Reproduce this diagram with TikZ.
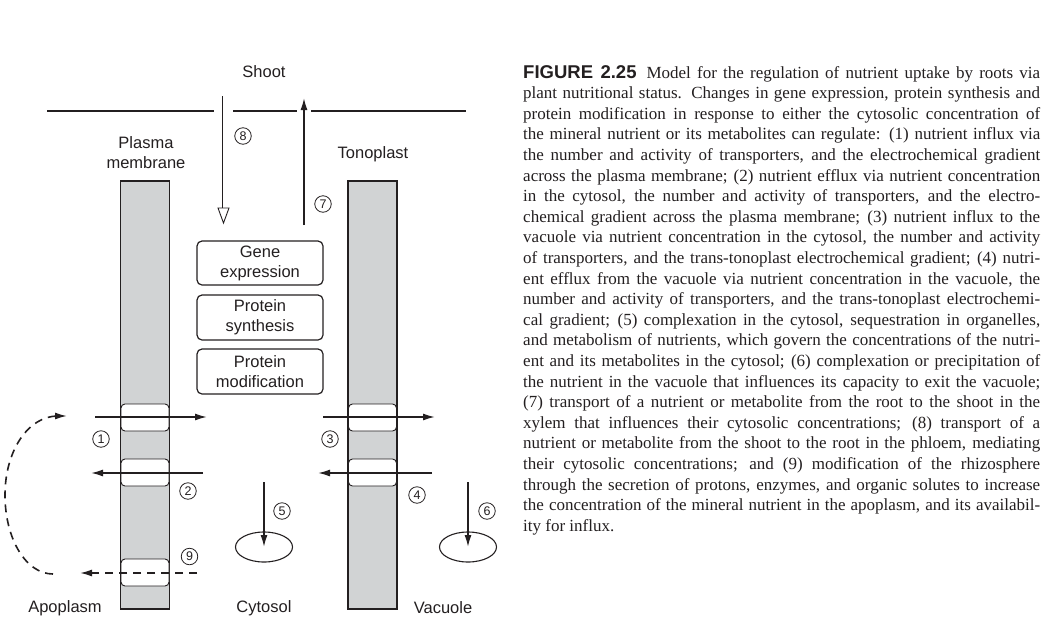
\documentclass[tikz,border=0pt]{standalone}
\usepackage{fontspec}
\setmainfont{Liberation Serif}
\setsansfont{Liberation Sans}
\usetikzlibrary{arrows.meta,shapes.geometric}
\definecolor{ink}{HTML}{231F20}
\definecolor{barfill}{HTML}{D1D3D4}
\newcommand\capl[1]{\hbox to 517pt{#1}}
\begin{document}
\begin{tikzpicture}[x=1pt,y=-1pt,
  lbl/.style={font=\sffamily\fontsize{16.5}{20}\selectfont, text=ink, align=center, inner sep=0},
  num/.style={circle, draw=ink, line width=0.8pt, minimum size=16.5pt, inner sep=0, font=\sffamily\fontsize{12.5}{12.5}\selectfont, text=ink},
  bar/.style={draw=ink, fill=barfill, line width=1.1pt, minimum width=49pt, minimum height=428pt, inner sep=0},
  porter/.style={draw=ink, fill=white, rounded corners=4pt, line width=0.9pt, minimum width=48pt, minimum height=27pt, inner sep=0},
  regbox/.style={lbl, draw=ink, rounded corners=5pt, line width=1.2pt, minimum width=126pt, minimum height=45pt},
  pool/.style={ellipse, draw=ink, line width=1.1pt, minimum width=57pt, minimum height=30pt, inner sep=0},
  flow/.style={draw=ink, line width=1.6pt, -{Latex[length=12pt,width=7pt]}},
  dflow/.style={flow, dash pattern=on 8pt off 6pt},
  rule/.style={draw=ink, line width=1.4pt}
]
\useasboundingbox (0,0) rectangle (1048,629);

% top boundary (root / shoot)
\draw[rule] (47,111) -- (214,111);
\draw[rule] (233,111) -- (297,111);
\draw[rule] (311,111) -- (466,111);

% membranes
\node[bar] (pm) at (145,395) {};
\node[bar] (tp) at (372.5,395) {};
\node[porter] (t1) at (145,417.5) {};
\node[porter] (t2) at (145,472.5) {};
\node[porter] (t9) at (145,572.5) {};
\node[porter] (t3) at (372.5,417.5) {};
\node[porter] (t4) at (372.5,472.5) {};

% labels
\node[lbl] (shoot) at (264,72) {Shoot};
\node[lbl] (plasma) at (146,153) {Plasma\\membrane};
\node[lbl] (tono) at (373,154) {Tonoplast};
\node[lbl] (apo) at (65,608) {Apoplasm};
\node[lbl] (cyto) at (264,608) {Cytosol};
\node[lbl] (vac) at (443,608) {Vacuole};

% regulation boxes
\node[regbox, minimum height=44pt] (gene) at (260,263) {Gene\\expression};
\node[regbox] (synth) at (260,317.5) {Protein\\synthesis};
\node[regbox] (modif) at (260,371.5) {Protein\\modification};

% arrow 8 (phloem, hollow)
\coordinate (p8a) at (223.5,96);
\coordinate (p8b) at (223.5,208);
\coordinate (p8c) at (223.5,223);
\draw[ink, line width=0.9pt, double=white, double distance=2pt] (p8a) -- (p8b);
\draw[ink, fill=white, line width=0.9pt] (218,208) -- (229,208) -- (p8c) -- cycle;

% arrow 7 (xylem)
\coordinate (p7a) at (304,225);
\coordinate (p7b) at (304,98);
\draw[flow] (p7a) -- (p7b);

% transport arrows
\coordinate (a1s) at (95,417); \coordinate (a1e) at (207,417);
\draw[flow] (a1s) -- (a1e);
\coordinate (a2s) at (203,473); \coordinate (a2e) at (91,473);
\draw[flow] (a2s) -- (a2e);
\coordinate (a3s) at (323,417); \coordinate (a3e) at (435,417);
\draw[flow] (a3s) -- (a3e);
\coordinate (a4s) at (432,473); \coordinate (a4e) at (318,473);
\draw[flow] (a4s) -- (a4e);
\coordinate (a9s) at (197,573); \coordinate (a9e) at (80,573);
\draw[dflow] (a9s) -- (a9e);

% rhizosphere loop
\coordinate (lpa) at (53,574);
\coordinate (lpb) at (5,495);
\coordinate (lpc) at (58,416);
\coordinate (lpd) at (67,416);
\draw[dflow] (lpa) .. controls (26,574) and (5,539) .. (lpb)
   .. controls (5,451) and (28,416) .. (lpc) -- (lpd);

% pools
\node[pool] (e5) at (264,547) {};
\node[pool] (e6) at (468,547) {};
\coordinate (s5) at (264,482);
\coordinate (s6) at (468,482);
\draw[flow] (s5) -- (e5.center);
\draw[flow] (s6) -- (e6.center);

% numbers
\node[num] (n1) at (101,439) {1};
\node[num] (n2) at (188,491) {2};
\node[num] (n3) at (330,439) {3};
\node[num] (n4) at (417,495) {4};
\node[num] (n5) at (282,511) {5};
\node[num] (n6) at (487,511) {6};
\node[num] (n7) at (323,204) {7};
\node[num] (n8) at (243,136) {8};
\node[num] (n9) at (189.5,556.5) {9};

% caption
\node[anchor=base west, inner sep=0, text=ink] (caption) at (523,78) {\vtop{\hsize=517pt\fontsize{17}{20.6}\selectfont
\capl{{\sffamily\bfseries\fontsize{18.5}{20.6}\selectfont FIGURE 2.25}\hspace{10pt}Model for the regulation of nutrient uptake by roots via}
\capl{plant nutritional status. Changes in gene expression, protein synthesis and}
\capl{protein modification in response to either the cytosolic concentration of}
\capl{the mineral nutrient or its metabolites can regulate: (1) nutrient influx via}
\capl{the number and activity of transporters, and the electrochemical gradient}
\capl{across the plasma membrane; (2) nutrient efflux via nutrient concentration}
\capl{in the cytosol, the number and activity of transporters, and the electro-}
\capl{chemical gradient across the plasma membrane; (3) nutrient influx to the}
\capl{vacuole via nutrient concentration in the cytosol, the number and activity}
\capl{of transporters, and the trans-tonoplast electrochemical gradient; (4) nutri-}
\capl{ent efflux from the vacuole via nutrient concentration in the vacuole, the}
\capl{number and activity of transporters, and the trans-tonoplast electrochemi-}
\capl{cal gradient; (5) complexation in the cytosol, sequestration in organelles,}
\capl{and metabolism of nutrients, which govern the concentrations of the nutri-}
\capl{ent and its metabolites in the cytosol; (6) complexation or precipitation of}
\capl{the nutrient in the vacuole that influences its capacity to exit the vacuole;}
\capl{(7) transport of a nutrient or metabolite from the root to the shoot in the}
\capl{xylem that influences their cytosolic concentrations; (8) transport of a}
\capl{nutrient or metabolite from the shoot to the root in the phloem, mediating}
\capl{their cytosolic concentrations; and (9) modification of the rhizosphere}
\capl{through the secretion of protons, enzymes, and organic solutes to increase}
\capl{the concentration of the mineral nutrient in the apoplasm, and its availabil-}
\hbox{ity for influx.}}};
\end{tikzpicture}
\end{document}
